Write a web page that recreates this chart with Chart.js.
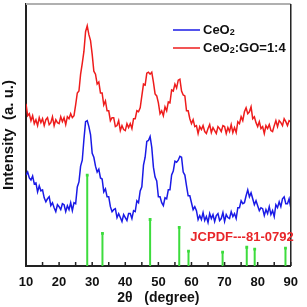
<!DOCTYPE html>
<html>
<head>
<meta charset="utf-8">
<script src="https://cdn.jsdelivr.net/npm/chart.js@4/dist/chart.umd.min.js"></script>
<style>
  html, body { margin: 0; padding: 0; background: #fff; }
  #xrd { display: block; }
</style>
</head>
<body>
<canvas id="xrd" width="307" height="307"></canvas>
<script>
// 2theta sampling (degrees)
const angles = [
  10, 10.5, 11, 11.5, 12, 12.5, 13, 13.5, 14, 14.5, 15, 15.5, 16, 16.5, 17, 17.5, 18, 18.5, 19, 19.5,
  20, 20.5, 21, 21.5, 22, 22.5, 23, 23.5, 24, 24.5, 25, 25.5, 26, 26.5, 27, 27.5, 28, 28.5, 29, 29.5,
  30, 30.5, 31, 31.5, 32, 32.5, 33, 33.5, 34, 34.5, 35, 35.5, 36, 36.5, 37, 37.5, 38, 38.5, 39, 39.5,
  40, 40.5, 41, 41.5, 42, 42.5, 43, 43.5, 44, 44.5, 45, 45.5, 46, 46.5, 47, 47.5, 48, 48.5, 49, 49.5,
  50, 50.5, 51, 51.5, 52, 52.5, 53, 53.5, 54, 54.5, 55, 55.5, 56, 56.5, 57, 57.5, 58, 58.5, 59, 59.5,
  60, 60.5, 61, 61.5, 62, 62.5, 63, 63.5, 64, 64.5, 65, 65.5, 66, 66.5, 67, 67.5, 68, 68.5, 69, 69.5,
  70, 70.5, 71, 71.5, 72, 72.5, 73, 73.5, 74, 74.5, 75, 75.5, 76, 76.5, 77, 77.5, 78, 78.5, 79, 79.5,
  80, 80.5, 81, 81.5, 82, 82.5, 83, 83.5, 84, 84.5, 85, 85.5, 86, 86.5, 87, 87.5, 88, 88.5, 89, 89.5,
  90
];

// CeO2 (offset pattern, a.u.)
const ceo2 = [
  92, 95, 89, 87, 91, 83, 84, 75, 81, 76, 77, 69, 65, 68, 70, 61, 64, 59, 55, 62,
  60, 57, 63, 62, 55, 61, 57, 64, 56, 64, 63, 80, 85, 101, 107, 128, 146, 147, 141, 133,
  114, 110, 101, 95, 98, 89, 88, 75, 78, 70, 70, 60, 55, 57, 58, 49, 53, 49, 45, 52,
  49, 46, 53, 53, 48, 56, 55, 66, 64, 76, 80, 102, 110, 126, 127, 131, 120, 100, 90, 86,
  70, 70, 64, 61, 69, 68, 77, 77, 92, 96, 106, 105, 107, 111, 110, 95, 92, 81, 71, 71,
  64, 57, 60, 56, 47, 51, 47, 54, 46, 50, 44, 53, 48, 52, 45, 51, 53, 46, 48, 54,
  45, 52, 49, 48, 55, 50, 53, 48, 59, 59, 66, 63, 64, 71, 77, 70, 74, 68, 62, 66,
  61, 56, 59, 58, 51, 57, 53, 60, 52, 56, 50, 62, 59, 65, 60, 68, 70, 63, 63, 68,
  59
];

// CeO2:GO=1:4 (offset pattern, a.u.)
const ceo2go = [
  164, 152, 154, 147, 152, 144, 148, 142, 150, 145, 149, 142, 148, 150, 143, 145, 151, 142, 148, 145,
  144, 151, 146, 150, 143, 151, 149, 154, 150, 152, 163, 175, 177, 194, 205, 217, 237, 243, 234, 228,
  214, 197, 194, 184, 186, 175, 175, 163, 167, 157, 157, 147, 150, 150, 141, 142, 147, 137, 142, 138,
  137, 144, 140, 144, 139, 149, 149, 157, 156, 160, 172, 184, 183, 195, 196, 194, 196, 186, 174, 172,
  165, 154, 157, 152, 161, 157, 166, 165, 178, 177, 184, 180, 188, 189, 177, 173, 172, 157, 157, 149,
  144, 148, 141, 142, 134, 141, 138, 142, 136, 134, 139, 143, 135, 140, 137, 134, 141, 139, 136, 142,
  141, 134, 140, 136, 143, 135, 140, 135, 146, 144, 151, 147, 156, 160, 154, 156, 161, 149, 151, 145,
  141, 146, 139, 141, 134, 142, 139, 143, 137, 136, 142, 147, 141, 147, 145, 142, 149, 146, 142, 147,
  146
];

// JCPDF 81-0792 reference lines
const refAngles = [28.5, 33.1, 47.5, 56.3, 59.1, 69.4, 76.7, 79.1, 88.4];
const refHeights = [92, 33, 47, 39, 15, 14, 19, 17, 18];

const seriesNames = ['CeO', 'CeO'];
const seriesSuffix = [':GO=1:4'];

const BLUE = '#1a1ae6';
const RED = '#ee1c1c';
const GREEN = '#3ddc3d';
const FONT = '"Liberation Sans", Arial, sans-serif';

const toPoints = (xs, ys) => xs.map((x, i) => ({ x: x, y: ys[i] }));

// each reference line as a vertical stick from the baseline, broken by gaps
const sticks = [];
refAngles.forEach((a, i) => {
    sticks.push({ x: a, y: 0 }, { x: a, y: refHeights[i] }, { x: a, y: null });
});

// frame, inward ticks, legend and card label
const decorations = {
    id: 'decorations',
    afterDraw(chart) {
        const { ctx, chartArea: a, scales: { x } } = chart;
        ctx.save();

        // top edge is grey in the source, right edge dark
        ctx.strokeStyle = '#b0b0b0';
        ctx.lineWidth = 2;
        ctx.beginPath();
        ctx.moveTo(a.left, a.top);
        ctx.lineTo(a.right, a.top);
        ctx.stroke();
        ctx.strokeStyle = '#222';
        ctx.lineWidth = 1.5;
        ctx.beginPath();
        ctx.moveTo(a.right, a.top);
        ctx.lineTo(a.right, a.bottom);
        ctx.stroke();

        // small ticks pointing into the plot
        ctx.lineWidth = 1.5;
        ctx.beginPath();
        x.ticks.forEach(t => {
            const px = x.getPixelForValue(t.value);
            ctx.moveTo(px, a.bottom);
            ctx.lineTo(px, a.bottom - 4);
        });
        ctx.stroke();

        // legend
        const items = [
            { color: BLUE, y: 30, tail: '' },
            { color: RED, y: 48, tail: seriesSuffix[0] }
        ];
        items.forEach((it, i) => {
            ctx.strokeStyle = it.color;
            ctx.lineWidth = 1.5;
            ctx.beginPath();
            ctx.moveTo(173, it.y);
            ctx.lineTo(200, it.y);
            ctx.stroke();

            ctx.fillStyle = '#111';
            ctx.textBaseline = 'middle';
            ctx.textAlign = 'left';
            ctx.font = 'bold 13px ' + FONT;
            let tx = 203;
            ctx.fillText(seriesNames[i], tx, it.y);
            tx += ctx.measureText(seriesNames[i]).width;
            ctx.font = 'bold 9px ' + FONT;
            ctx.fillText('2', tx, it.y + 3);
            tx += ctx.measureText('2').width;
            if (it.tail) {
                ctx.font = 'bold 13px ' + FONT;
                ctx.fillText(it.tail, tx, it.y);
            }
        });

        // reference card label
        ctx.fillStyle = '#e8262a';
        ctx.font = 'bold 13px ' + FONT;
        ctx.textAlign = 'center';
        ctx.textBaseline = 'middle';
        ctx.fillText('JCPDF---81-0792', 242, 237);

        ctx.restore();
    }
};

new Chart(document.getElementById('xrd'), {
    type: 'scatter',
    data: {
        datasets: [
            {
                type: 'line',
                label: 'JCPDF 81-0792',
                data: sticks,
                borderColor: GREEN,
                borderWidth: 2,
                pointRadius: 0,
                spanGaps: false,
                tension: 0
            },
            {
                type: 'scatter',
                label: 'JCPDF tops',
                data: toPoints(refAngles, refHeights),
                backgroundColor: GREEN,
                borderWidth: 0,
                pointStyle: 'rect',
                pointRadius: 2
            },
            {
                type: 'line',
                label: 'CeO2',
                data: toPoints(angles, ceo2),
                borderColor: BLUE,
                borderWidth: 1.5,
                pointRadius: 0,
                tension: 0
            },
            {
                type: 'line',
                label: 'CeO2:GO=1:4',
                data: toPoints(angles, ceo2go),
                borderColor: RED,
                borderWidth: 1.5,
                pointRadius: 0,
                tension: 0
            }
        ]
    },
    options: {
        responsive: false,
        animation: false,
        devicePixelRatio: 1,
        layout: { padding: { left: 0, right: 8, top: 1, bottom: 0 } },
        plugins: {
            legend: { display: false },
            tooltip: { enabled: false }
        },
        scales: {
            x: {
                type: 'linear',
                min: 10,
                max: 90,
                offset: false,
                afterFit: s => { s.height = 41; },
                border: { display: true, color: '#222', width: 2 },
                grid: { display: false, drawTicks: false },
                ticks: {
                    stepSize: 5,
                    padding: 9,
                    color: '#111',
                    font: { family: FONT, size: 13, weight: 'bold' },
                    maxRotation: 0,
                    autoSkip: false,
                    callback: v => (v % 10 === 0 ? v : '')
                },
                title: {
                    display: true,
                    text: '2\u03b8   (degree)',
                    color: '#111',
                    font: { family: FONT, size: 14, weight: 'bold' },
                    padding: { top: 0, bottom: 0 }
                }
            },
            y: {
                type: 'linear',
                min: 0,
                max: 265,
                afterFit: s => { s.width = 26; },
                border: { display: true, color: '#222', width: 2 },
                grid: { display: false, drawTicks: false },
                ticks: { display: false },
                title: {
                    display: true,
                    text: 'Intensity  (a. u.)',
                    color: '#111',
                    font: { family: FONT, size: 15, weight: 'bold' },
                    padding: { top: 0, bottom: 0 }
                }
            }
        }
    },
    plugins: [decorations]
});
</script>
</body>
</html>
